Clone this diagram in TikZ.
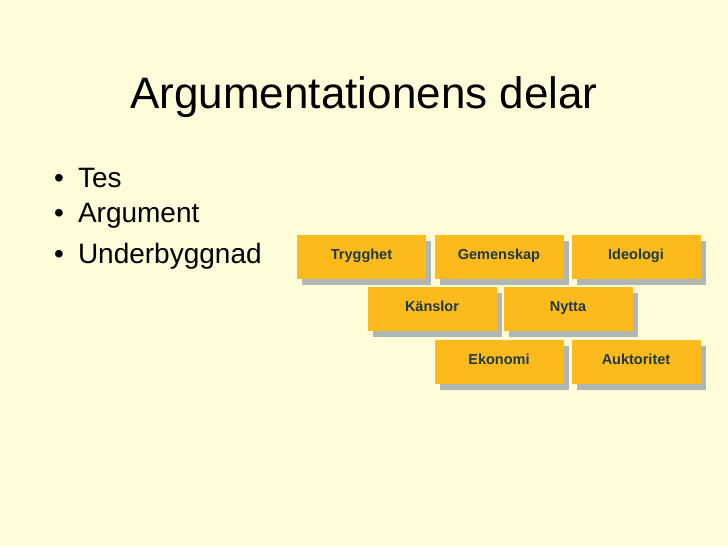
\documentclass[tikz,border=0pt]{standalone}
\usepackage{fontspec}
\setmainfont{Liberation Sans}
\begin{document}
\begin{tikzpicture}[x=1pt,y=-1pt,
  brick/.style={fill=brickfill,draw=none,minimum width=129pt,minimum height=44pt,inner sep=0pt,
    font=\bfseries\fontsize{14.5}{16}\selectfont,text=bricktext},
  shadowbox/.style={fill=shadowc,draw=none,minimum width=129pt,minimum height=44pt},
  bullet/.style={anchor=west,font=\fontsize{28}{32}\selectfont,inner sep=0pt}]
\definecolor{bg}{HTML}{FFFCD9}
\definecolor{brickfill}{HTML}{FDBA1C}
\definecolor{bricktext}{HTML}{1E3A48}
\definecolor{shadowc}{HTML}{7A8A9A}
\fill[bg] (0,0) rectangle (728,546);
\node[font=\fontsize{44}{50}\selectfont,inner sep=0pt] (title) at (364,97) {Argumentationens delar};
\node[bullet] (b1) at (54,178) {•\hspace{14pt}Tes};
\node[bullet] (b2) at (54,216) {•\hspace{14pt}Argument};
\node[bullet] (b3) at (54,256) {•\hspace{14pt}Underbyggnad};
\foreach \n/\x/\y/\t in {tr/361.5/257/Trygghet, ge/499/257/Gemenskap, id/636/257/Ideologi,
  ka/432/309/Känslor, ny/568/309/Nytta, ek/499/362/Ekonomi, au/636/362/Auktoritet}{
  \node[shadowbox,opacity=0.6] at (\x+5,\y+6) {};
  \node[brick] (\n) at (\x,\y) {\raisebox{5pt}{\t}\hspace{10pt}};
}
\end{tikzpicture}
\end{document}
